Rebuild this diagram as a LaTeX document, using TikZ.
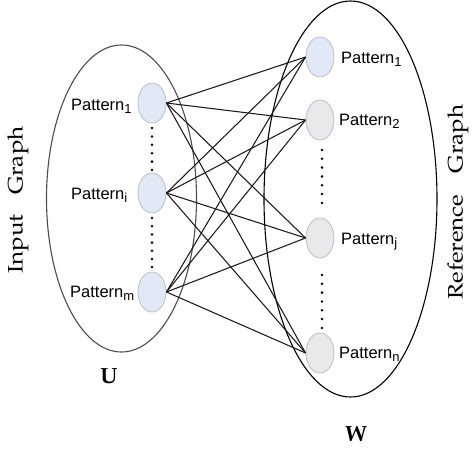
\documentclass[tikz,border=0pt]{standalone}
\usepackage[T1]{fontenc}
\usepackage{fontspec}
\setmainfont{Liberation Sans}
\usetikzlibrary{shapes.geometric}
\newcommand{\palafont}{\fontencoding{T1}\fontfamily{ppl}\selectfont}
\newcommand{\psub}[1]{\raisebox{-3.5pt}{\fontsize{13}{13}\selectfont #1}}
\definecolor{nodeblue}{RGB}{226,233,246}
\definecolor{nodegray}{RGB}{233,233,233}
\definecolor{nodeedge}{RGB}{190,194,202}
\definecolor{edgecol}{RGB}{25,25,25}
\tikzset{
  pnode/.style={ellipse, minimum width=28pt, minimum height=40pt, inner sep=0pt, draw=nodeedge, line width=0.9pt},
  bluenode/.style={pnode, fill=nodeblue},
  graynode/.style={pnode, fill=nodegray},
  plabel/.style={inner sep=0pt, font=\fontsize{16.5}{16.5}\selectfont},
  link/.style={draw=edgecol, line width=1.05pt},
  sidelabel/.style={rotate=90, inner sep=0pt},
  setlabel/.style={inner sep=0pt, font=\palafont\bfseries\fontsize{22}{22}\selectfont}
}
\begin{document}
\begin{tikzpicture}[x=1pt,y=-1pt]
\useasboundingbox (0,0) rectangle (474,450);
% group ellipses
\draw[draw=black!70, line width=1.1pt] (121.5,198.5) ellipse [x radius=75, y radius=153.5];
\draw[draw=black, line width=1.1pt] (350.5,199) ellipse [x radius=86.5, y radius=198];
% pattern nodes
\node[bluenode] (L1) at (152,103) {};
\node[bluenode] (Li) at (152,193) {};
\node[bluenode] (Lm) at (152,292) {};
\node[bluenode] (R1) at (320,57) {};
\node[graynode] (R2) at (320,120) {};
\node[graynode] (Rj) at (320,238) {};
\node[graynode] (Rn) at (320,353) {};
% connectors
\foreach \a in {L1,Li,Lm}{
  \foreach \b in {R1,R2,Rj,Rn}{
    \draw[link] (\a.east) -- (\b.west);
  }
}
% dots
\foreach \y in {128,136.4,144.8,153.2,161.6,170} \fill (152,\y) circle (1.4);
\foreach \y in {218,226.2,234.4,242.6,250.8,259,267} \fill (152,\y) circle (1.4);
\foreach \y in {150,158.8,167.6,176.4,185.2,194,203} \fill (322,\y) circle (1.4);
\foreach \y in {275,283.8,292.6,301.4,310.2,319,328} \fill (322,\y) circle (1.4);
% labels
\node[plabel, anchor=base west] (tL1) at (71,110) {Pattern\psub{1}};
\node[plabel, anchor=base west] (tLi) at (71,199) {Pattern\psub{i}};
\node[plabel, anchor=base west] (tLm) at (70,297) {Pattern\psub{m}};
\node[plabel, anchor=base west] (tR1) at (341,63) {Pattern\psub{1}};
\node[plabel, anchor=base west] (tR2) at (339,125) {Pattern\psub{2}};
\node[plabel, anchor=base west] (tRj) at (341,244) {Pattern\psub{j}};
\node[plabel, anchor=base west] (tRn) at (339,358) {Pattern\psub{n}};
% side labels
\node[sidelabel] (inp) at (18,200) {\scalebox{1.15}[1]{\palafont\fontsize{21}{21}\selectfont Input\hspace{17pt}Graph}};
\node[sidelabel] (ref) at (458,202) {\scalebox{1.15}[1]{\palafont\fontsize{21}{21}\selectfont Reference\hspace{19pt}Graph}};
% set labels
\node[setlabel] (U) at (109,376) {U};
\node[setlabel] (W) at (356,434) {W};
\end{tikzpicture}
\end{document}
